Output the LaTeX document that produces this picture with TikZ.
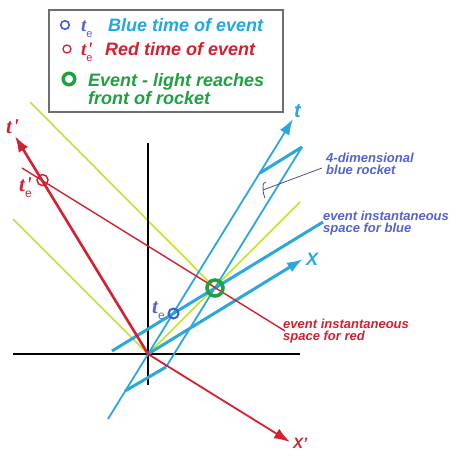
\documentclass[tikz,border=0pt]{standalone}
\usepackage{fontspec}
\setmainfont{Liberation Sans}
\newfontfamily\tfont{Liberation Serif}
\usetikzlibrary{arrows.meta}
\definecolor{cyanb}{HTML}{2AA8DC}
\definecolor{cyant}{HTML}{22A8E0}
\definecolor{redc}{HTML}{D42030}
\definecolor{limec}{HTML}{C8E032}
\definecolor{greenc}{HTML}{20A040}
\definecolor{slate}{HTML}{5562CF}
\definecolor{circblue}{HTML}{4658DC}
\definecolor{boxgray}{HTML}{6E6E6E}
\definecolor{leaderc}{HTML}{4A4C9A}
\newcommand\tit{{\tfont\bfseries\itshape t}}
\newcommand\titp{{\tfont\bfseries\itshape t\rlap{\kern0.05em'}}}
\newcommand\esub[1]{\raisebox{-0.3em}{\fontsize{#1}{#1}\selectfont\normalfont e}}
\begin{document}
\begin{tikzpicture}[x=1pt,y=-1pt,
  lightray/.style={draw=limec, line width=1.6pt},
  axisk/.style={draw=black, line width=2pt},
  bthin/.style={draw=cyanb, line width=1.8pt},
  bthick/.style={draw=cyanb, line width=3pt},
  rthick/.style={draw=redc, line width=2.6pt},
  rthin/.style={draw=redc, line width=1.4pt},
  tipA/.style={-{Latex[length=16pt,width=11pt]}},
  lbl/.style={inner sep=0, anchor=base west, font=\bfseries\itshape},
  ring/.style={circle, inner sep=0, fill=none}
]
\useasboundingbox (0,0) rectangle (465,460);
% key points
\coordinate (O) at (148,354);
\coordinate (Ttip) at (293,119);
\coordinate (Tbot) at (108,419);
\coordinate (Xtip) at (303,259);
\coordinate (Tptip) at (15,136);
\coordinate (Xptip) at (290,442);
\coordinate (E) at (215,288);
\coordinate (F1) at (166,367);
\coordinate (F2) at (302,147);
\coordinate (B1) at (125,391);
\coordinate (B2) at (260,173);
\coordinate (BSa) at (112,351);
\coordinate (BSb) at (323,222);
\coordinate (RSa) at (22,168);
\coordinate (RSb) at (285,331);
\coordinate (TE) at (173.5,313.5);
\coordinate (TEp) at (42.5,180);
\coordinate (L1b) at (300,202);
\coordinate (L2a) at (30,102);
\coordinate (L3a) at (13,219);
\coordinate (Hl) at (13,354);
\coordinate (Hr) at (300,354);
\coordinate (Vt) at (148,143);
\coordinate (Vb) at (148,385);
% light rays
\draw[lightray] (O) -- (L1b);
\draw[lightray] (L2a) -- (E);
\draw[lightray] (L3a) -- (O);
% black axes
\draw[axisk] (Hl) -- (Hr);
\draw[axisk] (Vt) -- (Vb);
% blue frame
\draw[bthin, tipA] (Tbot) -- (Ttip);
\draw[bthick, tipA] (O) -- (Xtip);
\draw[bthin] (F1) -- (F2);
\draw[bthick] (B1) -- (F1);
\draw[bthick] (B2) -- (F2);
\draw[bthick] (BSa) -- (BSb);
% red frame
\draw[rthick, tipA] (O) -- (Tptip);
\draw[redc, line width=1.8pt, tipA] (O) -- (Xptip);
\draw[rthin] (RSa) -- (RSb);
% rocket pointer
\coordinate (Sq) at (263,190);
\coordinate (Lead) at (322,168);
\draw[leaderc, line width=0.8pt] (266,182) .. controls (261,183) and (264,189) .. (Sq) .. controls (262,193) and (265,195) .. (265,198);
\draw[leaderc, line width=0.8pt] (Sq) -- (Lead);
% event markers
\node[ring, draw=circblue, line width=2pt, minimum size=10pt] (te) at (TE) {};
\node[ring, draw=redc, line width=1.5pt, minimum size=11pt] (tep) at (TEp) {};
\node[ring, draw=greenc, line width=3.6pt, minimum size=16pt] (ev) at (E) {};
% axis labels
\node[lbl, text=cyanb, font=\fontsize{20}{20}\selectfont\bfseries\itshape] (tlab) at (294,117) {t};
\node[lbl, text=cyanb, font=\fontsize{18}{18}\selectfont\bfseries\itshape] (xlab) at (306,265) {X};
\node[lbl, text=redc, font=\fontsize{21}{21}\selectfont] (tplab) at (6,133) {\titp};
\node[lbl, text=redc, font=\fontsize{15}{15}\selectfont\bfseries\itshape] (xplab) at (293,448) {X'};
\node[lbl, text=redc, font=\fontsize{21}{21}\selectfont] (teplab) at (19,191) {\titp\esub{12}};
\node[lbl, text=slate, font=\fontsize{21}{21}\selectfont] (telab) at (152,313) {\tit\esub{12}};
% annotations
\node[lbl, text=slate, font=\fontsize{13}{13}\selectfont\bfseries\itshape] (rk1) at (326,162) {4-dimensional};
\node[lbl, text=slate, font=\fontsize{13}{13}\selectfont\bfseries\itshape] (rk2) at (326,174) {blue rocket};
\node[lbl, text=slate, font=\fontsize{13}{13}\selectfont\bfseries\itshape] (bs1) at (323,220) {event instantaneous};
\node[lbl, text=slate, font=\fontsize{13}{13}\selectfont\bfseries\itshape] (bs2) at (323,232) {space for blue};
\node[lbl, text=redc, font=\fontsize{13}{13}\selectfont\bfseries\itshape] (rs1) at (283,328) {event instantaneous};
\node[lbl, text=redc, font=\fontsize{13}{13}\selectfont\bfseries\itshape] (rs2) at (283,340) {space for red};
% legend
\draw[boxgray, line width=2pt, fill=white] (49,10) rectangle (283,112);
\node[ring, draw=circblue, line width=1.6pt, minimum size=8.5pt] (lb) at (65,25) {};
\node[lbl, text=slate, font=\fontsize{19}{19}\selectfont] (lbt) at (81,32) {\tit\esub{11}};
\node[lbl, text=cyant, font=\fontsize{18}{18}\selectfont\bfseries\itshape] (lbx) at (108,32) {Blue time of event};
\node[ring, draw=redc, line width=1.3pt, minimum size=8pt] (lr) at (67,49) {};
\node[lbl, text=redc, font=\fontsize{19}{19}\selectfont] (lrt) at (81,56) {\titp\esub{11}};
\node[lbl, text=redc, font=\fontsize{18}{18}\selectfont\bfseries\itshape] (lrx) at (105,56) {Red time of event};
\node[ring, draw=greenc, line width=3.5pt, minimum size=11.5pt] (lg) at (69,79) {};
\node[lbl, text=greenc, font=\fontsize{18}{18}\selectfont\bfseries\itshape] (lgx1) at (88,86) {Event - light reaches};
\node[lbl, text=greenc, font=\fontsize{18}{18}\selectfont\bfseries\itshape] (lgx2) at (88,104) {front of rocket};
\end{tikzpicture}
\end{document}
